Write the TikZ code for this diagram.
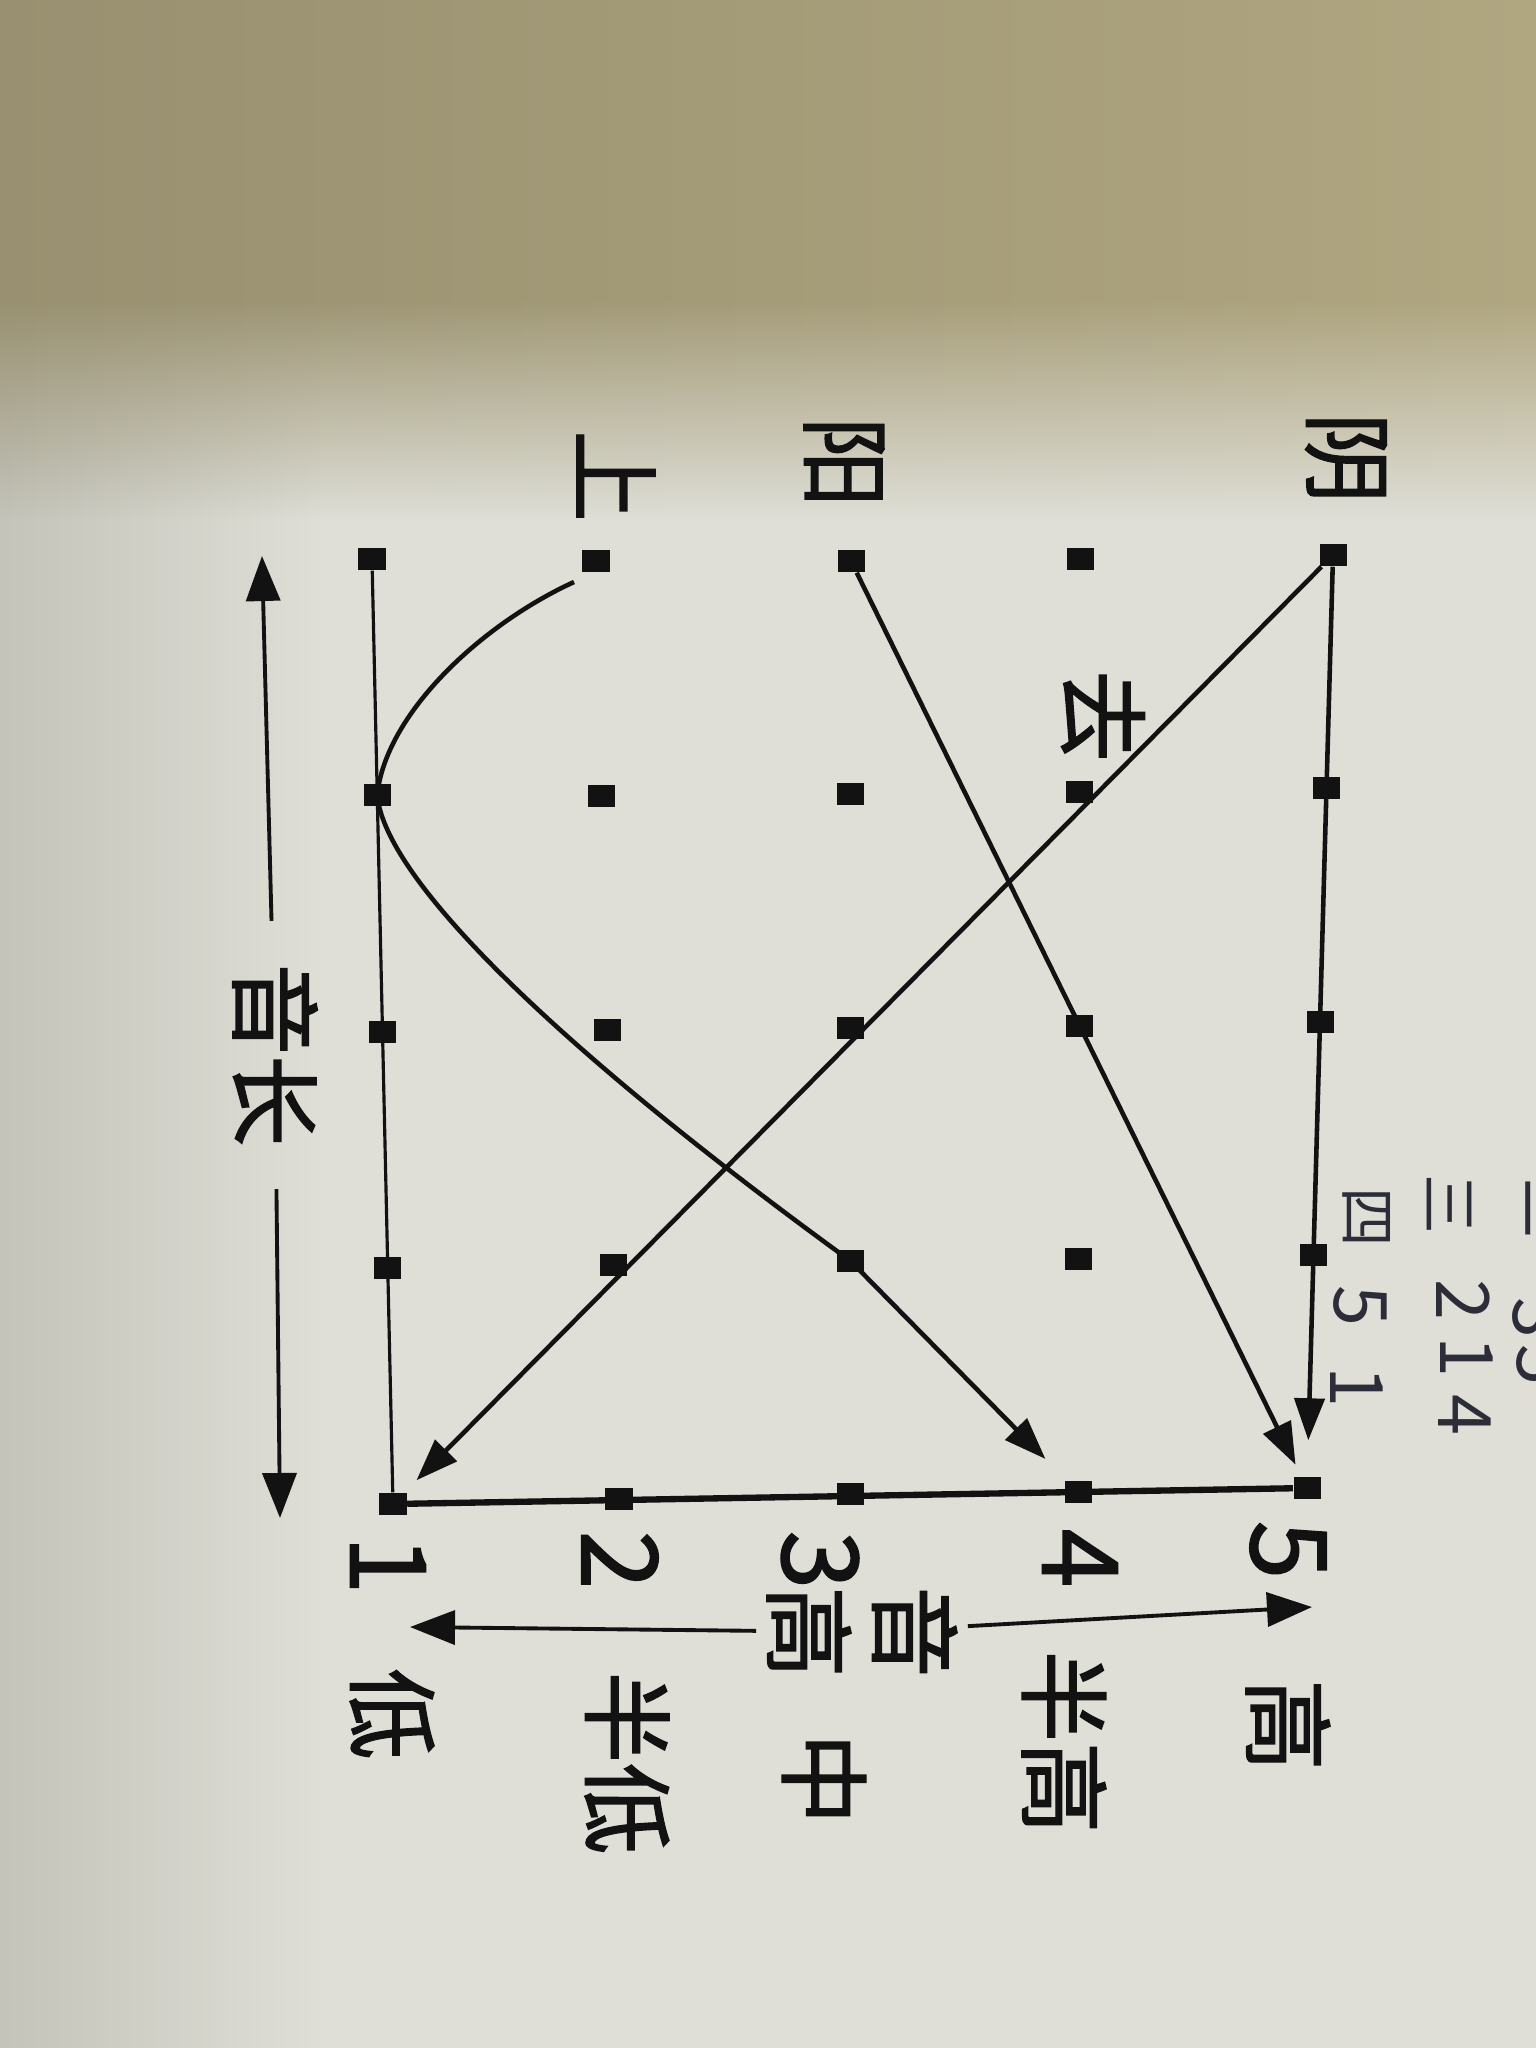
\documentclass[tikz,border=0pt]{standalone}
\usepackage{fontspec}
\newfontfamily\cjk[FakeBold=1.5]{Noto Sans CJK SC}
\newfontfamily\hand{Noto Sans CJK SC}
\usetikzlibrary{arrows.meta,calc,fadings}
\definecolor{paper}{RGB}{223,223,215}
\definecolor{khakiL}{RGB}{152,144,112}
\definecolor{khakiR}{RGB}{176,166,128}
\definecolor{sidegray}{RGB}{196,196,187}
\definecolor{ink}{RGB}{18,18,18}
\definecolor{pen}{RGB}{45,45,58}
\tikzfading[name=topfade, top color=transparent!0, bottom color=transparent!100]
\tikzfading[name=rightfade, left color=transparent!0, right color=transparent!100]
\begin{document}
\begin{tikzpicture}[x=0.01cm,y=-0.01cm,
  dot/.style={rectangle,fill=ink,inner sep=0pt,minimum width=0.27cm,minimum height=0.22cm},
  tone/.style={draw=ink,line width=1.3pt,-{Triangle[length=0.42cm,width=0.3cm]}},
  lvl/.style={draw=ink,line width=0.9pt},
  baseaxis/.style={draw=ink,line width=1.8pt},
  axarrow/.style={draw=ink,line width=1.1pt,-{Triangle[length=0.45cm,width=0.34cm]}},
  lab/.style={font=\cjk\fontsize{26}{30}\selectfont,text=ink,rotate=-90,inner sep=0pt},
  num/.style={font=\cjk\fontsize{30}{34}\selectfont,text=ink,rotate=-90,inner sep=0pt},
  hw/.style={font=\hand\fontsize{17}{20}\selectfont,text=pen,rotate=-90,inner sep=0pt},
  hwd/.style={font=\hand\fontsize{21}{24}\selectfont,text=pen,rotate=-90,inner sep=0pt}]
\useasboundingbox (0,0) rectangle (1536,2048);
% paper and shadows
\fill[paper] (0,0) rectangle (1536,2048);
\fill[sidegray, path fading=rightfade] (0,0) rectangle (320,2048);
\shade[left color=khakiL, right color=khakiR] (0,0) rectangle (1536,300);
\shade[left color=khakiL, right color=khakiR, path fading=topfade] (0,299) rectangle (1536,520);

% grid points
\foreach \L/\xt/\yt/\xb/\yb in {1/372/559/393/1504, 2/596/561/619/1499, 3/851/561/850/1494, 4/1080/559/1078/1492, 5/1333/555/1307/1488}
  \foreach \t in {0,...,4}
    \node[dot] (p\L\t) at ({\xt+(\xb-\xt)*\t/4},{\yt+(\yb-\yt)*\t/4}) {};

% level 1 line and pitch base axis
\draw[lvl] (p10) -- (p14);
\draw[baseaxis] (p14) -- (p54);

% tones
\draw[tone, shorten >=0.36cm] (p50) -- (p54);
\draw[tone, shorten >=0.13cm] (p30) -- (p54);
\draw[tone, shorten >=0.17cm] (p50) -- (p14);
\coordinate (s2) at (574,582);
\draw[tone, shorten >=0.3cm] (s2) .. controls (480,625) and (385,715) .. (p11.center)
  .. controls (385,880) and (560,1050) .. (p33.center) -- (p44);

% tone labels
\node[lab] (yin) at (1346,458) {阴};
\node[lab] (yang) at (844,462) {阳};
\node[lab] (shang) at (616,476) {上};
\node[lab] (qu) at (1103,716) {去};

% level numbers
\node[num] (n1) at (388,1565) {1};
\node[num] (n2) at (620,1560) {2};
\node[num] (n3) at (820,1560) {3};
\node[num] (n4) at (1080,1558) {4};
\node[num] (n5) at (1288,1550) {5};

% level names
\node[lab] (gao) at (1288,1725) {高};
\node[lab] (bangao) at (1064,1742) {半高};
\node[lab] (zhong) at (824,1779) {中};
\node[lab] (bandi) at (627,1763) {半低};
\node[lab] (di) at (392,1714) {低};

% pitch axis
\node[lab, align=center, inner ysep=0.1cm] (pa) at (862,1632) {音\\高};
\coordinate (pR) at (1312,1607);
\coordinate (pL) at (410,1627);
\draw[axarrow] (pa) -- (pR);
\draw[axarrow] (pa) -- (pL);

% time axis
\node[lab, inner xsep=0.42cm] (ta) at (275,1055) {音长};
\coordinate (tT) at (262,556);
\coordinate (tB) at (280,1518);
\draw[axarrow] (ta) -- (tT);
\draw[axarrow] (ta) -- (tB);

% handwritten notes
\node[hw] (h4a) at (1367,1217) {四};
\node[hwd] (h4b) at (1360,1306) {5};
\node[hwd] (h4c) at (1357,1387) {1};
\node[hw] (h3a) at (1449,1204) {三};
\node[hwd] (h3b) at (1463,1300) {2};
\node[hwd] (h3c) at (1467,1357) {1};
\node[hwd] (h3d) at (1465,1415) {4};
\node[hw] (h2a) at (1545,1208) {二};
\node[hwd] (h2b) at (1540,1318) {3};
\node[hwd] (h2c) at (1543,1365) {5};
\end{tikzpicture}
\end{document}
